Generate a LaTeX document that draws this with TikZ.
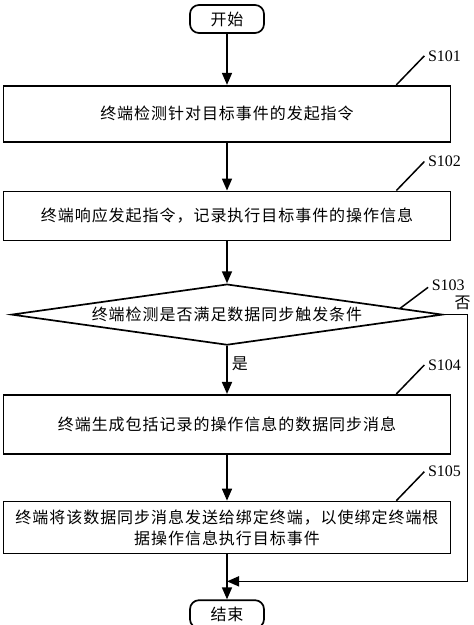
\documentclass[tikz,border=0pt]{standalone}
\usepackage{fontspec}
\setmainfont{Liberation Serif}
\newfontfamily\cjk[LetterSpace=6]{Noto Sans CJK SC}
\usepackage{tikz}
\usetikzlibrary{arrows.meta,calc,positioning,shapes.geometric}
\tikzset{
  >={Triangle[length=12pt,width=10pt]},
  flow/.style={->,line width=1.7pt},
  tagline/.style={line width=1.5pt},
  box/.style={draw,line width=1.7pt,minimum width=447pt,align=center,
    inner sep=2pt,font=\cjk\fontsize{16}{21}\selectfont},
  termbox/.style={draw,line width=1.7pt,rounded corners=9pt,
    minimum width=74pt,minimum height=28pt,font=\cjk\fontsize{16}{18}\selectfont},
  decbox/.style={draw,diamond,aspect=7,line width=1.7pt,inner sep=0pt,
    minimum width=431pt,minimum height=61pt,font=\cjk\fontsize{16}{18}\selectfont},
  steptag/.style={anchor=west,inner sep=3pt,font=\fontsize{16}{18}\selectfont},
  yesno/.style={inner sep=4pt,font=\cjk\fontsize{16}{18}\selectfont}
}

\begin{document}
\begin{tikzpicture}
  \useasboundingbox (0,0) rectangle (474pt,-625pt);
  \fill[white] (0,0) rectangle (474pt,-625pt);

  \node[termbox] (start) at (227pt,-19pt) {开始};
  \node[box,minimum height=56pt,below=51pt of start] (detect) {终端检测针对目标事件的发起指令};
  \node[box,minimum height=49pt,below=48pt of detect] (record) {终端响应发起指令，记录执行目标事件的操作信息};
  \node[decbox,below=42pt of record] (check) {终端检测是否满足数据同步触发条件};
  \node[box,minimum height=59pt,below=48pt of check] (build) {终端生成包括记录的操作信息的数据同步消息};
  \node[box,minimum height=52pt,below=46pt of build] (send) {终端将该数据同步消息发送给绑定终端，以使绑定终端根\\据操作信息执行目标事件};
  \node[termbox,below=45pt of send] (end) {结束};
  \coordinate (merge) at ($(end.north)+(0,18pt)$);

  \draw[flow] (start) -- (detect);
  \draw[flow] (detect) -- (record);
  \draw[flow] (record) -- (check);
  \draw[flow] (check) -- node[yesno,right,pos=0.37] {是} (build);
  \draw[flow] (build) -- (send);
  \draw[flow] (send) -- (end);
  \draw[flow] (check.east) -- node[yesno,above,pos=0.8] {否} ++(24pt,0) |- (merge);

  % step numbers
  \draw[tagline] ($(detect.north east)+(-55pt,0)$) -- ++(28pt,29pt) node[steptag] {S101};
  \draw[tagline] ($(record.north east)+(-55pt,0)$) -- ++(28pt,29pt) node[steptag] {S102};
  \draw[tagline] ($(check.east)!0.2!(check.north)$) -- ++(28pt,21pt) node[steptag,yshift=2pt] {S103};
  \draw[tagline] ($(build.north east)+(-55pt,0)$) -- ++(28pt,29pt) node[steptag] {S104};
  \draw[tagline] ($(send.north east)+(-55pt,0)$) -- ++(28pt,29pt) node[steptag] {S105};
\end{tikzpicture}
\end{document}
